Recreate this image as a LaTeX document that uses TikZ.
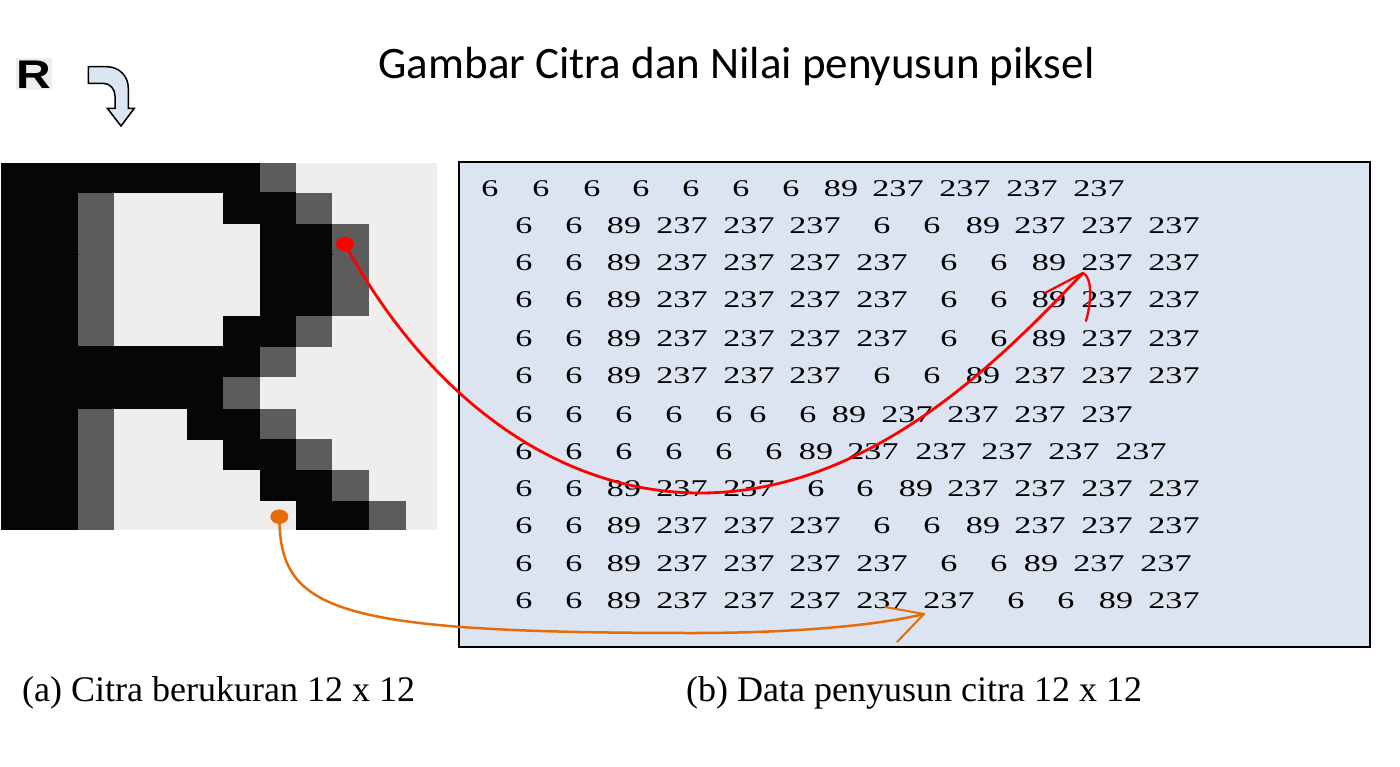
\documentclass[tikz,border=0pt]{standalone}
\usepackage{fontspec}
\usepackage{graphicx}
\setmainfont{Liberation Serif}
\newfontfamily\titlefont{Carlito}
\newfontfamily\iconfont{Liberation Sans}
\usetikzlibrary{shapes.geometric}
\definecolor{pxblack}{HTML}{060606}
\definecolor{pxgray}{HTML}{5C5C5C}
\definecolor{pxlight}{HTML}{EFEEEC}
\definecolor{boxfill}{HTML}{DBE4F0}
\definecolor{arrowfill}{HTML}{DCE6F2}
\definecolor{redline}{HTML}{FF0000}
\definecolor{orangeline}{HTML}{E46C0A}
\newcommand\numtxt[1]{\scalebox{1.42}[1]{#1}}
\def\PX{{1.7,40,78.3,114.3,150.6,187,223.3,260,296,332.3,369,405.7,436.7}}
\def\PY{{163.3,192.7,224,254.7,285.3,316,346.7,377.3,409,439.3,470,501,530}}
\def\rowA{490/6,541/6,592/6,641/6,691/6,741/6,791/6,841/89,898/237,965/237,1032/237,1099/237}
\def\rowB{524/6,574/6,624/89,682/237,749/237,815/237,882/6,932/6,983/89,1040/237,1107/237,1174/237}
\def\rowC{524/6,574/6,624/89,682/237,749/237,815/237,882/237,949/6,999/6,1049/89,1107/237,1174/237}
\def\rowG{524/6,574/6,624/6,674/6,724/6,758/6,808/6,849/89,907/237,973/237,1040/237,1107/237}
\def\rowH{524/6,574/6,624/6,674/6,724/6,774/6,816/89,873/237,941/237,1007/237,1074/237,1141/237}
\def\rowI{524/6,574/6,624/89,682/237,749/237,816/6,865/6,916/89,973/237,1040/237,1107/237,1174/237}
\def\rowK{524/6,574/6,624/89,682/237,749/237,815/237,882/237,949/6,999/6,1041/89,1099/237,1166/237}
\def\rowL{524/6,574/6,624/89,682/237,749/237,815/237,882/237,949/237,1016/6,1066/6,1116/89,1174/237}
\newcommand\numrow[3]{%
  \foreach \x/\v [count=\k] in #3 {
    \node[numtok] (n#2-\k) at (\x,#1) {\numtxt{\v}};
  }}
\begin{document}
\begin{tikzpicture}[x=1pt,y=-1pt,
  numtok/.style={anchor=base,inner sep=0pt,font=\fontsize{24}{28}\selectfont},
  captext/.style={anchor=base west,inner sep=0pt,font=\fontsize{36}{40}\selectfont},
  titletext/.style={anchor=base,inner sep=0pt,font=\titlefont\fontsize{45}{50}\selectfont},
  dotmark/.style={ellipse,inner sep=0pt,minimum width=18pt,minimum height=14.5pt},
  redconn/.style={draw=redline,line width=2.8pt,line cap=round},
  orangeconn/.style={draw=orangeline,line width=2.5pt,line cap=round},
  blockarrow/.style={fill=arrowfill,draw=black,line width=1.5pt,line join=miter}
]
\useasboundingbox (0,0) rectangle (1400,767);
\fill[white] (0,0) rectangle (1400,767);
% title
\node[titletext] (title) at (736.5,79) {Gambar Citra dan Nilai penyusun piksel};
% small R icon
\node[fill=pxlight,inner sep=0pt,minimum width=36pt,minimum height=32pt,anchor=north west,
  font=\iconfont\bfseries\fontsize{40}{40}\selectfont] (ricon) at (15.5,58.3) {\scalebox{1.2}[1]{R}};
% curved block arrow
\filldraw[blockarrow] (88.3,66.7) -- (106.7,66.7) .. controls (119,66.7) and (128.3,76) .. (128.3,88)
  -- (128.3,108.3) -- (134.3,108.3) -- (121,126) -- (107.3,108.3) -- (115,108.3) -- (115,96)
  .. controls (115,89) and (110,83.3) .. (103.3,83.3) -- (88.3,83.3) -- cycle;
% pixel grid
\fill[pxlight] (1.7,163.3) rectangle (436.7,530);
\foreach \codes [count=\r from 0] in {
  {1,1,1,1,1,1,1,2,0,0,0,0},
  {1,1,2,0,0,0,1,1,2,0,0,0},
  {1,1,2,0,0,0,0,1,1,2,0,0},
  {1,1,2,0,0,0,0,1,1,2,0,0},
  {1,1,2,0,0,0,0,1,1,2,0,0},
  {1,1,2,0,0,0,1,1,2,0,0,0},
  {1,1,1,1,1,1,1,2,0,0,0,0},
  {1,1,1,1,1,1,2,0,0,0,0,0},
  {1,1,2,0,0,1,1,2,0,0,0,0},
  {1,1,2,0,0,0,1,1,2,0,0,0},
  {1,1,2,0,0,0,0,1,1,2,0,0},
  {1,1,2,0,0,0,0,0,1,1,2,0}}{
  \foreach \c [count=\k from 0] in \codes {
    \pgfmathsetmacro\xa{\PX[\k]}
    \pgfmathsetmacro\xb{\PX[\k+1]}
    \pgfmathsetmacro\ya{\PY[\r]}
    \pgfmathsetmacro\yb{\PY[\r+1]}
    \ifcase\c\or
      \fill[pxblack] (\xa-0.3,\ya-0.3) rectangle (\xb+0.3,\yb+0.3);
    \or
      \fill[pxgray] (\xa,\ya) rectangle (\xb,\yb);
    \fi
  }
}
% data box
\node[draw=black,line width=2pt,fill=boxfill,minimum width=911pt,minimum height=485pt,
  inner sep=0pt,anchor=north west] (databox) at (458,161) {};
\numrow{197}{1}{\rowA}
\numrow{234}{2}{\rowB}
\numrow{271}{3}{\rowC}
\numrow{308}{4}{\rowC}
\numrow{346}{5}{\rowC}
\numrow{383}{6}{\rowB}
\numrow{422}{7}{\rowG}
\numrow{459}{8}{\rowH}
\numrow{496}{9}{\rowI}
\numrow{533}{10}{\rowB}
\numrow{571}{11}{\rowK}
\numrow{608}{12}{\rowL}
% captions
\node[captext] (capa) at (22,701) {(a) Citra berukuran 12 x 12};
\node[captext] (capb) at (686,701) {(b) Data penyusun citra 12 x 12};
% red connector
\node[dotmark,fill=redline] (rdot) at (345,244) {};
\coordinate (rtip) at (1083,273);
\path[redconn] (rdot.center) .. controls (430,400) and (560,493) .. (700,493)
  .. controls (870,493) and (1000,360) .. (rtip);
\path[redconn,line width=2.3pt] (rtip) -- (1045,293);
\path[redconn,line width=2.3pt] (rtip) .. controls (1092,277) and (1092,300) .. (1086,321);
% orange connector
\node[dotmark,fill=orangeline] (odot) at (279.3,516.7) {};
\coordinate (otip) at (924,614);
\path[orangeconn] (odot.center) .. controls (280,610) and (330,633) .. (693,633)
  .. controls (790,633) and (875,626) .. (otip);
\path[orangeconn,line width=2pt] (otip) -- (885,607);
\path[orangeconn,line width=2pt] (otip) -- (897,642);
\end{tikzpicture}
\end{document}
